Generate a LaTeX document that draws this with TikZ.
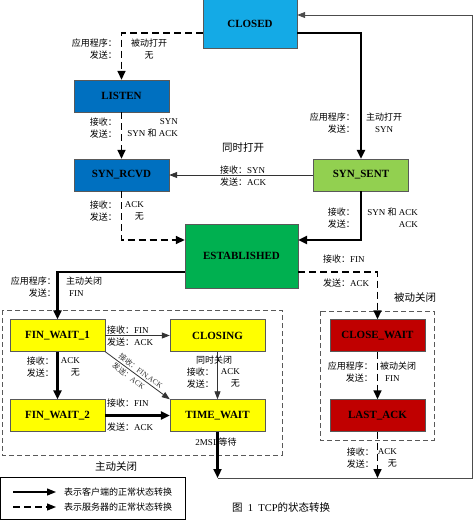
\documentclass[tikz,border=0pt]{standalone}
\usepackage{fontspec}
\setmainfont{Liberation Serif}
\newfontfamily\zhfont{Noto Sans CJK SC}
\newcommand{\zw}[1]{{\zhfont #1}}
\usetikzlibrary{arrows.meta}
\definecolor{closedblue}{RGB}{20,170,230}
\definecolor{srvblue}{RGB}{0,112,192}
\definecolor{synsentgreen}{RGB}{146,208,80}
\definecolor{estgreen}{RGB}{0,176,80}
\definecolor{finyellow}{RGB}{255,255,0}
\definecolor{waitred}{RGB}{192,0,0}
\begin{document}
\begin{tikzpicture}[x=1pt,y=-1pt,
    state/.style={draw=black!65, minimum width=95pt, minimum height=32pt, inner sep=0pt,
        font=\bfseries\fontsize{11}{13}\selectfont},
    lbl/.style={inner sep=0pt, font=\fontsize{9}{12}\selectfont},
    head/.style={inner sep=0pt, font=\fontsize{10.5}{12}\selectfont},
    client/.style={line width=2.4pt, -{Triangle[length=9pt,width=8pt]}},
    simul/.style={line width=0.8pt, black!80, -{Triangle[length=8pt,width=6pt]}},
    server/.style={line width=1.6pt, dash pattern=on 7pt off 4pt, -{Triangle[length=9pt,width=8pt]}},
    frame/.style={draw=black!65, line width=0.8pt, dash pattern=on 5pt off 3pt}
]
\useasboundingbox (0,0) rectangle (474,520);

% states
\node[state, fill=closedblue, minimum width=94pt, minimum height=49pt] (closed) at (250,23.5) {CLOSED};
\node[state, fill=srvblue] (listen) at (121.5,96) {LISTEN};
\node[state, fill=srvblue] (synrcvd) at (121.5,175) {SYN\_RCVD};
\node[state, fill=synsentgreen] (synsent) at (361,175) {SYN\_SENT};
\node[state, fill=estgreen, minimum width=113pt, minimum height=64pt] (est) at (241.5,256) {ESTABLISHED};
\node[state, fill=finyellow] (fw1) at (57.5,335.5) {FIN\_WAIT\_1};
\node[state, fill=finyellow] (closing) at (217.5,335.5) {CLOSING};
\node[state, fill=finyellow] (fw2) at (57.5,415.5) {FIN\_WAIT\_2};
\node[state, fill=finyellow] (tw) at (217.5,415.5) {TIME\_WAIT};
\node[state, fill=waitred] (cw) at (377.5,335.5) {CLOSE\_WAIT};
\node[state, fill=waitred] (la) at (377.5,415.5) {LAST\_ACK};

\draw[frame] (2,310) rectangle (282,455);
\draw[frame] (320,311) rectangle (434,440);

% transitions
\draw[server] ([yshift=-9.5pt]closed.west) -| (listen.north);
\draw[client] ([yshift=-9.5pt]closed.east) -| (synsent.north);
\draw[server] (listen) -- (synrcvd);
\draw[simul] (synsent) -- (synrcvd);
\draw[server] (synrcvd.south) |- ([yshift=16pt]est.west);
\draw[client] (synsent.south) |- ([yshift=16pt]est.east);
\draw[client] ([yshift=-16pt]est.west) -| (fw1.north);
\draw[server] ([yshift=-16pt]est.east) -| (cw.north);
\draw[simul] (fw1) -- (closing);
\draw[client] (fw1) -- (fw2);
\draw[simul] (fw1.south east) --
    node[lbl, sloped, anchor=west, align=left, pos=0.17, font=\fontsize{7.5}{11}\selectfont]
        {\zw{接收：}FIN,ACK\\\zw{发送：}ACK}
    (tw.north west);
\draw[simul] (closing) -- (tw);
\draw[client] (fw2) -- (tw);
\draw[server] (cw) -- (la);
\coordinate (bend) at (472,478);
\coordinate (top) at (472,15);
\draw[server] (la.south) -- (la.south |- bend);
\draw[client] (tw.south) -- (tw.south |- bend);
\draw[line width=0.8pt, black!70, -{Triangle[length=8pt,width=6pt]}]
    (tw.south |- bend) -- (bend) -- (top) -- ([yshift=8.5pt]closed.east);

% labels
\node[lbl, anchor=east, align=right] at (117,49) {\zw{应用程序：}\\\zw{发送：}};
\node[lbl, anchor=west, align=center] at (131,49) {\zw{被动打开}\\\zw{无}};
\node[lbl, anchor=east, align=right] at (117,128) {\zw{接收：}\\\zw{发送：}};
\node[lbl, anchor=east, align=right] at (178,128) {SYN\\SYN \zw{和} ACK};
\node[lbl, anchor=east, align=right] at (117,211) {\zw{接收：}\\\zw{发送：}};
\node[lbl, anchor=east, align=right] at (144,211) {ACK\\\zw{无}};
\node[lbl, anchor=east, align=right] at (355,123) {\zw{应用程序：}\\\zw{发送：}};
\node[lbl, anchor=west, align=center] at (366,123) {\zw{主动打开}\\SYN};
\node[head] at (243,148) {\zw{同时打开}};
\node[lbl, anchor=west, align=left] at (220,176) {\zw{接收：}SYN\\\zw{发送：}ACK};
\node[lbl, anchor=east, align=right] at (355,218) {\zw{接收：}\\\zw{发送：}};
\node[lbl, anchor=east, align=right] at (418,218) {SYN \zw{和} ACK\\ACK};
\node[lbl, anchor=east, align=right] at (56,287) {\zw{应用程序：}\\\zw{发送：}};
\node[lbl, anchor=west, align=left] at (66,287) {\zw{主动关闭}\\\hspace{3pt}FIN};
\node[lbl, anchor=west] at (323,259) {\zw{接收：}FIN};
\node[lbl, anchor=west] at (323,283) {\zw{发送：}ACK};
\node[head] at (415,298) {\zw{被动关闭}};
\node[lbl, anchor=west, align=left] at (107,336) {\zw{接收：}FIN\\\zw{发送：}ACK};
\node[lbl, anchor=east, align=right] at (54,367) {\zw{接收：}\\\zw{发送：}};
\node[lbl, anchor=east, align=right] at (80,367) {ACK\\\zw{无}};
\node[lbl] at (214,360) {\zw{同时关闭}};
\node[lbl, anchor=east, align=right] at (214,378) {\zw{接收：}\\\zw{发送：}};
\node[lbl, anchor=east, align=right] at (240,378) {ACK\\\zw{无}};
\node[lbl, anchor=west] at (107,403) {\zw{接收：}FIN};
\node[lbl, anchor=west] at (107,427) {\zw{发送：}ACK};
\node[lbl] at (216,442) {2MSL\zw{等待}};
\node[lbl, anchor=east, align=right] at (373,372) {\zw{应用程序：}\\\zw{发送：}};
\node[lbl, anchor=west, align=left] at (380,372) {\zw{被动关闭}\\\hspace{5pt}FIN};
\node[lbl, anchor=east, align=right] at (374,458) {\zw{接收：}\\\zw{发送：}};
\node[lbl, anchor=east, align=right] at (397,458) {ACK\\\zw{无}};
\node[head] at (116,467) {\zw{主动关闭}};

% legend
\draw[line width=0.8pt] (0.5,477) rectangle (185,519.5);
\node[lbl, anchor=west] (cltext) at (64,492) {\zw{表示客户端的正常状态转换}};
\node[lbl, anchor=west] (srvtext) at (64,507) {\zw{表示服务器的正常状态转换}};
\coordinate (c1) at (13,492);
\coordinate (c2) at (13,507);
\draw[line width=1.2pt, -{Triangle[length=9pt,width=7pt]}] (c1) -- ([xshift=-8pt]cltext.west);
\draw[line width=1.2pt, dash pattern=on 7pt off 4pt, -{Triangle[length=9pt,width=7pt]}] (c2) -- ([xshift=-8pt]srvtext.west);
\node[head, anchor=west] at (232,507) {\zw{图}\ \ 1\ \ TCP\zw{的状态转换}};
\end{tikzpicture}
\end{document}
